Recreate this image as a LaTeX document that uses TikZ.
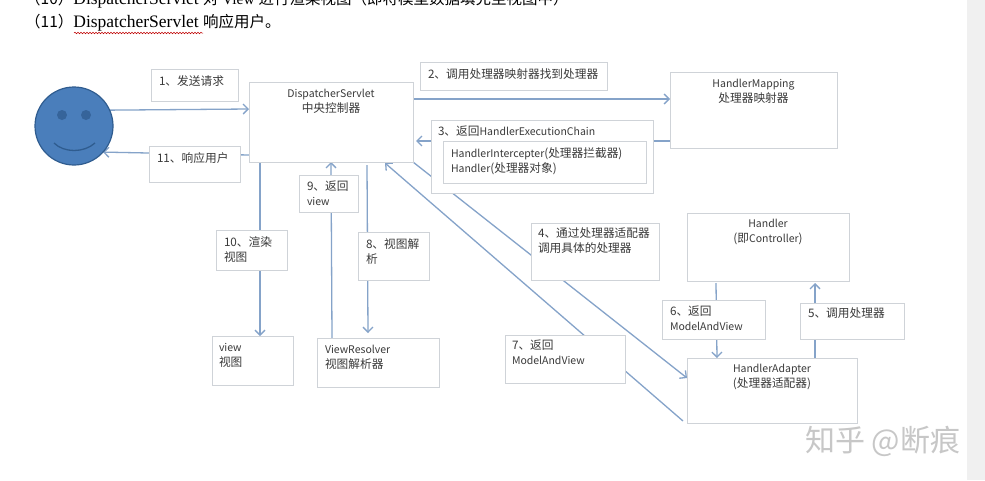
\documentclass[tikz,border=0pt]{standalone}
\usepackage{fontspec}
\setmainfont{Noto Sans CJK SC}
\newfontfamily\serifl{Liberation Serif}
\usetikzlibrary{arrows.meta,decorations.pathmorphing}
\pgfdeclarelayer{bg}
\pgfsetlayers{bg,main}
\definecolor{edgeblue}{HTML}{85A3C9}
\definecolor{boxline}{HTML}{CFD3D8}
\definecolor{inktext}{HTML}{3A3A3A}
\definecolor{faceblue}{HTML}{4A7EBB}
\definecolor{faceline}{HTML}{2F5C8F}
\definecolor{eyeblue}{HTML}{36649A}
\newcommand\lft[1]{\leftskip=#1pt\relax\rightskip=0pt plus 1fil\relax}
\newcommand\la[1]{{\fontsize{10.5}{15}\selectfont #1}}
\newcommand\bx[8]{%
  \pgfmathsetmacro\bxw{#4-#2}\pgfmathsetmacro\bxh{#5-#3}%
  \node[boxnode] (#1) at ({(#2+#4)/2},{(#3+#5)/2})
    {\parbox[c][\bxh pt][t]{\bxw pt}{#6\vspace*{\dimexpr#7pt-10pt\relax}\rule{0pt}{10pt}#8}};}
\tikzset{
  boxnode/.style={draw=boxline,line width=1pt,fill=white,inner sep=0pt,outer sep=0pt,text=inktext,
    font=\fontsize{11.7}{15}\selectfont},
  flow/.style={draw=edgeblue,line width=1.3pt,-{Straight Barb[length=5pt,width=10pt]}},
  pagetext/.style={inner sep=0pt,text=black},
  watermark/.style={inner sep=0pt,text=black!22,font=\fontsize{30}{32}\selectfont}
}
\begin{document}
\begin{tikzpicture}[x=1pt,y=-1pt]
\useasboundingbox (0,0) rectangle (985,480);
\begin{pgfonlayer}{bg}
\fill[white] (0,0) rectangle (985,480);
\fill[black!6] (967,0) rectangle (985,480);
\end{pgfonlayer}
% page text
\node[pagetext,anchor=base west] (line10) at (25,4) {\fontsize{15.5}{18}\selectfont （10）\serifl\fontsize{17.5}{18}\selectfont DispatcherServlet \fontsize{15.5}{18}\rmfamily\selectfont 对 \serifl View \rmfamily 进行渲染视图（即将模型数据填充至视图中）};
\node[pagetext,anchor=base west] (line11) at (25,27) {\fontsize{15.5}{18}\selectfont （11）\serifl\fontsize{17.5}{18}\selectfont DispatcherServlet \fontsize{15.5}{18}\rmfamily\selectfont 响应用户。};
\draw[red!75!black,line width=0.5pt,decorate,decoration={snake,amplitude=0.8pt,segment length=3pt}] (74,33) -- (203,33);
% user
\node[circle,draw=faceline,line width=1.2pt,fill=faceblue,minimum size=78pt,inner sep=0pt,outer sep=0pt] (user) at (74,126) {};
\node[circle,fill=eyeblue,minimum size=10pt,inner sep=0pt] (eyeL) at (62,115) {};
\node[circle,fill=eyeblue,minimum size=10pt,inner sep=0pt] (eyeR) at (86,115) {};
\draw[faceline,line width=1.3pt] (54,143) .. controls (64,153) and (84,153) .. (95,143);
% main boxes
\bx{ds}{249}{82}{413}{162}{\centering}{15}{\la{DispatcherServlet}\\中央控制器}
\bx{hm}{670}{72}{837}{148}{\centering}{15}{\la{HandlerMapping}\\处理器映射器}
\bx{handler}{687}{213}{849}{281}{\centering}{14}{\la{Handler}\\(即\la{Controller})}
\bx{ha}{687}{358}{857}{423}{\centering}{14}{\la{HandlerAdapter}\\(处理器适配器)}
\bx{view}{212}{336}{293}{385}{\lft{7}}{15}{\la{view}\\视图}
\bx{vr}{317}{338}{439}{387}{\lft{8}}{15}{\la{ViewResolver}\\视图解析器}
% connectors
\begin{pgfonlayer}{bg}
\draw[flow] (user.24) -- ([yshift=13pt]ds.west);
\draw[flow] ([yshift=-33pt]ds.west) -- (user.-42);
\draw[flow] ([yshift=23pt]ds.east) -- ([yshift=23pt]ds.east -| hm.west);
\draw[flow] ([yshift=-31pt]hm.west) -- ([xshift=3pt,yshift=-31pt]hm.west -| ds.east);
\draw[flow] (ds.south east) -- ([yshift=12.5pt]ha.west);
\draw[flow] ([xshift=-4pt,yshift=2pt]ha.south west) -- ([xshift=54pt,yshift=-1pt]ds.south);
\draw[flow] ([xshift=-71pt]ds.south) -- ([xshift=7.5pt]view.north);
\draw[flow] ([xshift=36pt,yshift=-3pt]ds.south) -- ([xshift=-10pt,yshift=5pt]vr.north);
\draw[flow] ([xshift=-46pt]vr.north) -- (ds.south);
\draw[flow] ([xshift=43pt]ha.north) -- ([xshift=47pt,yshift=-2pt]handler.south);
\draw[flow] ([xshift=-52pt,yshift=-2pt]handler.south) -- ([xshift=-55pt]ha.north);
\end{pgfonlayer}
% labels
\bx{l1}{151}{69}{238}{101}{\lft{8}}{16}{1、发送请求}
\bx{l11}{149}{146}{240}{182}{\lft{8}}{16}{11、响应用户}
\bx{l2}{420}{62}{607}{90}{\lft{8}}{16}{2、调用处理器映射器找到处理器}
\bx{l3}{431}{120}{653}{193}{\lft{7}}{15}{3、返回\la{HandlerExecutionChain}}
\bx{l3in}{443}{141}{646}{183}{\lft{8}}{16}{\la{HandlerIntercepter}(处理器拦截器)\\\la{Handler}(处理器对象)}
\bx{l4}{531}{223}{659}{280}{\lft{7}}{14}{4、通过处理器适配器\\调用具体的处理器}
\bx{l5}{800}{303}{904}{339}{\lft{8}}{14}{5、调用处理器}
\bx{l6}{662}{300}{765}{339}{\lft{8}}{15}{6、返回\\\la{ModelAndView}}
\bx{l7}{505}{335}{625}{383}{\lft{7}}{14}{7、返回\\\la{ModelAndView}}
\bx{l8}{358}{232}{429}{280}{\lft{8}}{16}{8、视图解\\析}
\bx{l9}{299}{175}{358}{212}{\lft{8}}{15}{9、返回\\\la{view}}
\bx{l10}{216}{230}{287}{270}{\lft{8}}{16}{10、渲染\\视图}
% watermark
\node[watermark,anchor=base west] (wm) at (805,451) {知乎 @断痕};
\end{tikzpicture}
\end{document}
